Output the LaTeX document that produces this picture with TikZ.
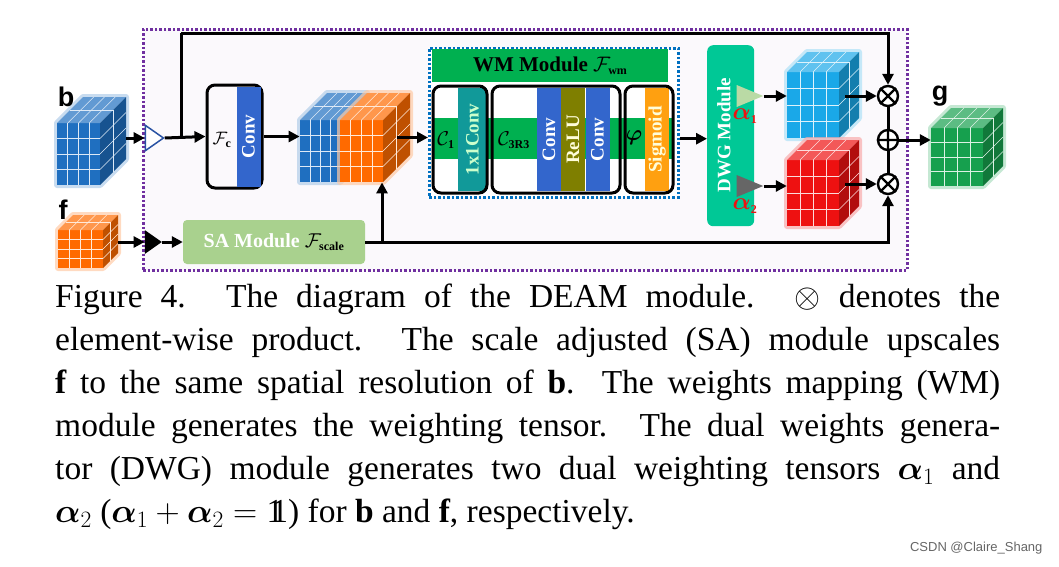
\RequirePackage{fix-cm}
\documentclass[tikz,border=0pt]{standalone}
\usepackage{amsmath,amssymb,bm}
\usepackage{fontspec}
\setmainfont{Liberation Serif}
\newfontfamily\sansb{Liberation Sans}
\usetikzlibrary{arrows.meta,shapes.geometric,fit}
\definecolor{cblue}{HTML}{1F6FC0}
\definecolor{lblue}{HTML}{1AA8E8}
\definecolor{corange}{HTML}{FF6A00}
\definecolor{cred}{HTML}{EE1111}
\definecolor{cgreen}{HTML}{16A04E}
\definecolor{convblue}{HTML}{3366CC}
\definecolor{olive}{HTML}{7F7F00}
\definecolor{teal2}{HTML}{119999}
\definecolor{sigor}{HTML}{FFA010}
\definecolor{wmgreen}{HTML}{00B050}
\definecolor{dwg}{HTML}{00C896}
\definecolor{sagreen}{HTML}{A9D18E}
\definecolor{purp}{HTML}{7030A0}
\definecolor{dblue}{HTML}{0070C0}
\newcommand\dsone{\mathrm{1}\kern-0.36em\mathrm{1}}
\newcommand\mycube[7]{%
\begin{scope}[shift={(#2,#3)}]
 \draw[#7!35,line width=6pt,line join=round,opacity=.7] (0,0)--(#6,-#6)--(#4+#6,-#6)--(#4+#6,#5-#6)--(#4,#5)--(0,#5)--cycle;
 \fill[#7] (0,0) rectangle (#4,#5);
 \fill[#7!70!white] (0,0)--(#6,-#6)--(#4+#6,-#6)--(#4,0)--cycle;
 \fill[#7!75!black] (#4,0)--(#4+#6,-#6)--(#4+#6,#5-#6)--(#4,#5)--cycle;
 \foreach \i in {1,2,3}{
  \draw[white!85!#7,line width=.6pt] ({#4*\i/4},0)--({#4*\i/4},#5);
  \draw[white!85!#7,line width=.6pt] (0,{#5*\i/4})--(#4,{#5*\i/4});
  \draw[white!85!#7,line width=.6pt] (#4,{#5*\i/4})--({#4+#6},{#5*\i/4-#6});
  \draw[white!85!#7,line width=.6pt] ({#4*\i/4},0)--({#4*\i/4+#6},-#6);}
 \draw[white!85!#7,line width=.6pt] ({#4+#6/2},{-#6/2})--({#4+#6/2},{#5-#6/2});
 \draw[white!85!#7,line width=.6pt] ({#6/2},{-#6/2})--({#4+#6/2},{-#6/2});
\end{scope}
\node[fit={({#2},{#3-#6}) ({#2+#4+#6},{#3+#5})},inner sep=0] (#1) {};}
\begin{document}
\begin{tikzpicture}[x=1pt,y=-1pt,
 arr/.style={line width=3pt,-{Triangle[length=11pt,width=11pt]}},
 ln/.style={line width=3pt},
 blk/.style={draw,line width=3pt,rounded corners=8pt,inner sep=0},
 strip/.style={rotate=90,inner sep=0,text=white,font=\bfseries\fontsize{19}{19}\selectfont},
 op/.style={circle,draw,line width=2.4pt,minimum size=20pt,inner sep=0,fill=white},
 lab/.style={font=\sansb\bfseries\fontsize{27}{27}\selectfont}]
\useasboundingbox (0,0) rectangle (1059,566);
% outer box
\node[draw=purp,fill=purp!3,dotted,line width=2.5pt,minimum width=764pt,minimum height=241pt,anchor=north west,inner sep=0] (outer) at (142,28) {};
% cubes
\mycube{bc}{57}{123}{43}{62}{26}{cblue}
\node[lab] (bl) at (66,97) {b};
\mycube{fc}{58}{230}{45}{38}{15}{corange}
\node[lab] (fl) at (63,210) {f};
\mycube{ccb}{300}{120}{40}{62}{27}{cblue}
\mycube{cco}{340}{120}{43}{62}{27}{corange}
\node[fit=(ccb)(cco),inner sep=0] (cc) {};
% triangles
\node[isosceles triangle,isosceles triangle apex angle=70,draw=convblue!80!black,fill=white,line width=1.5pt,minimum height=18pt,minimum width=24pt,inner sep=0] (t1) at (152,138) {};
\node[isosceles triangle,isosceles triangle apex angle=70,fill=black,minimum height=17pt,minimum width=22pt,inner sep=0] (t2) at (151,242) {};
% Conv block
\node[blk,minimum width=55pt,minimum height=103pt] (conv) at (234.5,136.5) {};
\node[strip,fill=convblue,minimum width=100pt,minimum height=24pt] (convs) at (248.5,136.5) {Conv};
\node[font=\fontsize{18}{18}\selectfont] (fcl) at (222,140) {$\mathcal{F}_{\textbf{\fontsize{12}{12}\selectfont c}}$};
% SA
\node[fill=sagreen,rounded corners=4pt,minimum width=182pt,minimum height=44pt,inner sep=0,font=\bfseries\fontsize{20}{20}\selectfont] (sa) at (274,242) {\textcolor{white}{SA Module} $\mathcal{F}_{\textbf{\fontsize{12}{12}\selectfont scale}}$};
% WM
\node[draw=dblue,fill=white,dotted,line width=2.5pt,minimum width=249pt,minimum height=149pt,anchor=north west,inner sep=0] (wm) at (428,47) {};
\node[fill=wmgreen,minimum width=236pt,minimum height=33pt,anchor=north west,inner sep=0,font=\bfseries\fontsize{21}{21}\selectfont] (wmt) at (432,49) {WM Module $\mathcal{F}_{\textbf{\fontsize{12}{12}\selectfont wm}}$};
\node[fill=wmgreen,minimum width=241pt,minimum height=41pt,anchor=north west,inner sep=0] (band) at (432,118) {};
\node[strip,fill=teal2,text=white!80!green,minimum width=103pt,minimum height=29pt] (s1) at (472.5,139.5) {1x1Conv};
\node[strip,fill=convblue,minimum width=103pt,minimum height=24pt] (s2) at (549,139.5) {Conv};
\node[strip,fill=olive,text=white!85!yellow,minimum width=103pt,minimum height=24pt] (s3) at (573,139.5) {ReLU};
\node[strip,fill=convblue,minimum width=103pt,minimum height=24pt] (s4) at (597.5,139.5) {Conv};
\node[strip,fill=sigor,text=white!85!yellow,minimum width=103pt,minimum height=24pt] (s5) at (657,139.5) {Sigmoid};
\node[blk,minimum width=54pt,minimum height=107pt] (b1) at (460,139.5) {};
\node[blk,minimum width=128pt,minimum height=107pt] (b2) at (556,139.5) {};
\node[blk,minimum width=48pt,minimum height=107pt] (b3) at (649,139.5) {};
\node[font=\fontsize{20}{20}\selectfont] (c1) at (446,140) {$\mathcal{C}_{\textbf{\fontsize{12}{12}\selectfont 1}}$};
\node[font=\fontsize{20}{20}\selectfont] (c3) at (514,140) {$\mathcal{C}_{\textbf{\fontsize{12}{12}\selectfont 3R3}}$};
\node[font=\fontsize{22}{22}\selectfont] (phi) at (634,138) {$\bm{\varphi}$};
% DWG
\node[fill=dwg,rounded corners=6pt,minimum width=47pt,minimum height=181pt,anchor=north west,inner sep=0] (dwgb) at (707,45) {};
\node[strip,font=\bfseries\fontsize{19}{19}\selectfont] (dwgt) at (724,135) {DWG Module};
\node[isosceles triangle,fill=sagreen!80!white,minimum height=17pt,minimum width=22pt,inner sep=0] (ta) at (744,96) {};
\node[isosceles triangle,fill=black!60,minimum height=17pt,minimum width=22pt,inner sep=0] (tb) at (744,186) {};
\node[text=cred,font=\fontsize{24}{24}\selectfont] (a1) at (745,116) {$\bm\alpha_{\textbf{\fontsize{12}{12}\selectfont 1}}$};
\node[text=cred,font=\fontsize{24}{24}\selectfont] (a2) at (745,206) {$\bm\alpha_{\textbf{\fontsize{12}{12}\selectfont 2}}$};
\mycube{ac}{787}{72}{52}{66}{20}{lblue}
\mycube{rc}{787}{160}{52}{66}{20}{cred}
\mycube{gc}{931}{128}{52}{58}{20}{cgreen}
\node[lab] (gl) at (940,96) {g};
% operators
\node[op] (m1) at (888,96) {};
\node[op] (pl) at (888,140) {};
\node[op] (m2) at (888,184) {};
\draw[line width=2.4pt] (m1.north west)--(m1.south east) (m1.north east)--(m1.south west)
 (m2.north west)--(m2.south east) (m2.north east)--(m2.south west)
 (pl.north)--(pl.south) (pl.west)--(pl.east);
% connectors
\coordinate (j1) at (181,138);
\coordinate (tl) at (181,33);
\coordinate (j2) at (382,242);
\draw[arr] (t1.west -| bc.east) -- (t1.west);
\draw[arr] (t1.east) -- (conv.west);
\draw[ln] (j1) -- (tl);
\draw[arr] (tl) -| (m1.north);
\draw[arr] (conv.east) -- (cc.west |- conv.east);
\draw[arr] ([xshift=-13pt]cc.east) -- (wm.west |- cc.east);
\draw[arr] (t2.west -| fc.east) -- (t2.west);
\draw[arr] (t2.east) -- (sa.west);
\draw[arr] (sa.east) -| (m2.south);
\draw[arr] (j2) -- (j2 |- cc.south);
\draw[arr] (wm.east |- band) -- (dwgb.west |- band);
\draw[arr] (ta.east) -- (ac.west |- ta.east);
\draw[arr] (tb.east) -- (rc.west |- tb.east);
\draw[arr] ([xshift=-14pt]ac.east |- m1) -- (m1.west);
\draw[arr] ([xshift=-14pt]rc.east |- m2) -- (m2.west);
\draw[ln] (m1.south) -- (pl.north) (pl.south) -- (m2.north);
\draw[arr] (pl.east) -- (gc.west |- pl.east);
% caption
\node[anchor=north west,text width=945pt,align=justify,inner sep=0,font=\fontsize{33.5}{43}\selectfont] (cap) at (55,284) {Figure 4. The diagram of the DEAM module. $\otimes$ denotes the\linebreak element-wise product. The scale adjusted (SA) module upscales\linebreak $\mathbf{f}$ to the same spatial resolution of $\mathbf{b}$. The weights mapping (WM)\linebreak module generates the weighting tensor. The dual weights genera-\linebreak tor (DWG) module generates two dual weighting tensors $\bm\alpha_1$ and\linebreak $\bm\alpha_2$ ($\bm\alpha_1+\bm\alpha_2=\dsone$) for $\mathbf{b}$ and $\mathbf{f}$, respectively.};
\node[anchor=east,text=black!60,font=\sansb\fontsize{13}{13}\selectfont] (wmk) at (1046,548) {CSDN @Claire\_Shang};
\end{tikzpicture}
\end{document}
